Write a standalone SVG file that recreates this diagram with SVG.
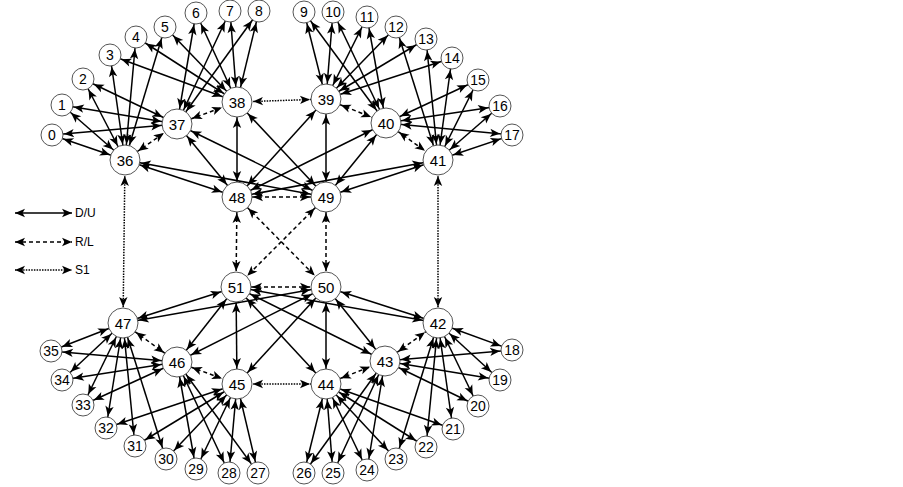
<svg xmlns="http://www.w3.org/2000/svg" width="903" height="487" viewBox="0 0 903 487">
<defs>
<marker id="mb" markerUnits="userSpaceOnUse" refX="16" refY="0" markerWidth="40" markerHeight="20" orient="auto-start-reverse" overflow="visible"><path d="M-10,-4.2 L0,0 L-10,4.2 L-7.5,0 z" fill="#000"/></marker>
<marker id="ms" markerUnits="userSpaceOnUse" refX="12" refY="0" markerWidth="40" markerHeight="20" orient="auto-start-reverse" overflow="visible"><path d="M-10,-4.2 L0,0 L-10,4.2 L-7.5,0 z" fill="#000"/></marker>
<marker id="m0" markerUnits="userSpaceOnUse" refX="0" refY="0" markerWidth="20" markerHeight="20" orient="auto-start-reverse" overflow="visible"><path d="M-10,-4.2 L0,0 L-10,4.2 L-7.5,0 z" fill="#000"/></marker>
</defs>
<style>
line{stroke:#000;stroke-width:1.5;fill:none}
.sb{marker-start:url(#ms);marker-end:url(#mb)}
.bb{marker-start:url(#mb);marker-end:url(#mb)}
.lg{marker-start:url(#m0);marker-end:url(#m0)}
.d{stroke-dasharray:4 3}
.o{stroke-dasharray:1.5 1.2}
circle{fill:#fff;stroke:#555;stroke-width:1}
text{font-family:"Liberation Sans",Arial,sans-serif;fill:#000;text-anchor:middle}
.b text{font-size:15px}
.s text{font-size:14px}
.leg{font-size:12px;text-anchor:start}
</style>
<rect width="903" height="487" fill="#fff"/>
<g id="connectors">
<!-- 36 -->
<line class="sb" x1="52" y1="135" x2="125" y2="160"/>
<line class="sb" x1="62" y1="105" x2="125" y2="160"/>
<line class="sb" x1="83" y1="79" x2="125" y2="160"/>
<line class="sb" x1="110" y1="55" x2="125" y2="160"/>
<line class="sb" x1="136" y1="37" x2="125" y2="160"/>
<line class="sb" x1="165" y1="27" x2="125" y2="160"/>
<!-- 37 -->
<line class="sb" x1="52" y1="135" x2="177" y2="124"/>
<line class="sb" x1="62" y1="105" x2="177" y2="124"/>
<line class="sb" x1="83" y1="79" x2="177" y2="124"/>
<line class="sb" x1="196" y1="13" x2="177" y2="124"/>
<line class="sb" x1="230" y1="11" x2="177" y2="124"/>
<line class="sb" x1="259" y1="11" x2="177" y2="124"/>
<!-- 38 -->
<line class="sb" x1="110" y1="55" x2="237" y2="102"/>
<line class="sb" x1="136" y1="37" x2="237" y2="102"/>
<line class="sb" x1="165" y1="27" x2="237" y2="102"/>
<line class="sb" x1="196" y1="13" x2="237" y2="102"/>
<line class="sb" x1="230" y1="11" x2="237" y2="102"/>
<line class="sb" x1="259" y1="11" x2="237" y2="102"/>
<!-- 39 -->
<line class="sb" x1="304" y1="12" x2="326" y2="99"/>
<line class="sb" x1="333" y1="12" x2="326" y2="99"/>
<line class="sb" x1="367" y1="17" x2="326" y2="99"/>
<line class="sb" x1="396" y1="27" x2="326" y2="99"/>
<line class="sb" x1="426" y1="39" x2="326" y2="99"/>
<line class="sb" x1="452" y1="58" x2="326" y2="99"/>
<!-- 40 -->
<line class="sb" x1="304" y1="12" x2="386" y2="123"/>
<line class="sb" x1="333" y1="12" x2="386" y2="123"/>
<line class="sb" x1="367" y1="17" x2="386" y2="123"/>
<line class="sb" x1="478" y1="80" x2="386" y2="123"/>
<line class="sb" x1="500" y1="106" x2="386" y2="123"/>
<line class="sb" x1="512" y1="135" x2="386" y2="123"/>
<!-- 41 -->
<line class="sb" x1="396" y1="27" x2="438" y2="160"/>
<line class="sb" x1="426" y1="39" x2="438" y2="160"/>
<line class="sb" x1="452" y1="58" x2="438" y2="160"/>
<line class="sb" x1="478" y1="80" x2="438" y2="160"/>
<line class="sb" x1="500" y1="106" x2="438" y2="160"/>
<line class="sb" x1="512" y1="135" x2="438" y2="160"/>
<!-- 42 -->
<line class="sb" x1="512" y1="350" x2="438" y2="323"/>
<line class="sb" x1="500" y1="380" x2="438" y2="323"/>
<line class="sb" x1="478" y1="406" x2="438" y2="323"/>
<line class="sb" x1="453" y1="429" x2="438" y2="323"/>
<line class="sb" x1="426" y1="447" x2="438" y2="323"/>
<line class="sb" x1="396" y1="459" x2="438" y2="323"/>
<!-- 43 -->
<line class="sb" x1="512" y1="350" x2="385" y2="361"/>
<line class="sb" x1="500" y1="380" x2="385" y2="361"/>
<line class="sb" x1="478" y1="406" x2="385" y2="361"/>
<line class="sb" x1="367" y1="470" x2="385" y2="361"/>
<line class="sb" x1="333" y1="473" x2="385" y2="361"/>
<line class="sb" x1="304" y1="473" x2="385" y2="361"/>
<!-- 44 -->
<line class="sb" x1="453" y1="429" x2="326" y2="384"/>
<line class="sb" x1="426" y1="447" x2="326" y2="384"/>
<line class="sb" x1="396" y1="459" x2="326" y2="384"/>
<line class="sb" x1="367" y1="470" x2="326" y2="384"/>
<line class="sb" x1="333" y1="473" x2="326" y2="384"/>
<line class="sb" x1="304" y1="473" x2="326" y2="384"/>
<!-- 45 -->
<line class="sb" x1="258" y1="473" x2="237" y2="384"/>
<line class="sb" x1="229" y1="473" x2="237" y2="384"/>
<line class="sb" x1="196" y1="469" x2="237" y2="384"/>
<line class="sb" x1="166" y1="459" x2="237" y2="384"/>
<line class="sb" x1="135" y1="446" x2="237" y2="384"/>
<line class="sb" x1="106" y1="428" x2="237" y2="384"/>
<!-- 46 -->
<line class="sb" x1="258" y1="473" x2="177" y2="362"/>
<line class="sb" x1="229" y1="473" x2="177" y2="362"/>
<line class="sb" x1="196" y1="469" x2="177" y2="362"/>
<line class="sb" x1="83" y1="405" x2="177" y2="362"/>
<line class="sb" x1="62" y1="380" x2="177" y2="362"/>
<line class="sb" x1="51" y1="351" x2="177" y2="362"/>
<!-- 47 -->
<line class="sb" x1="166" y1="459" x2="123" y2="323"/>
<line class="sb" x1="135" y1="446" x2="123" y2="323"/>
<line class="sb" x1="106" y1="428" x2="123" y2="323"/>
<line class="sb" x1="83" y1="405" x2="123" y2="323"/>
<line class="sb" x1="62" y1="380" x2="123" y2="323"/>
<line class="sb" x1="51" y1="351" x2="123" y2="323"/>
<!-- top big to 48/49 -->
<line class="bb" x1="125" y1="160" x2="237" y2="197"/>
<line class="bb" x1="125" y1="160" x2="326" y2="197"/>
<line class="bb" x1="177" y1="124" x2="237" y2="197"/>
<line class="bb" x1="177" y1="124" x2="326" y2="197"/>
<line class="bb" x1="237" y1="102" x2="237" y2="197"/>
<line class="bb" x1="237" y1="102" x2="326" y2="197"/>
<line class="bb" x1="326" y1="99" x2="237" y2="197"/>
<line class="bb" x1="326" y1="99" x2="326" y2="197"/>
<line class="bb" x1="386" y1="123" x2="237" y2="197"/>
<line class="bb" x1="386" y1="123" x2="326" y2="197"/>
<line class="bb" x1="438" y1="160" x2="237" y2="197"/>
<line class="bb" x1="438" y1="160" x2="326" y2="197"/>
<!-- bottom big to 50/51 -->
<line class="bb" x1="123" y1="323" x2="236" y2="287"/>
<line class="bb" x1="123" y1="323" x2="326" y2="287"/>
<line class="bb" x1="177" y1="362" x2="236" y2="287"/>
<line class="bb" x1="177" y1="362" x2="326" y2="287"/>
<line class="bb" x1="237" y1="384" x2="236" y2="287"/>
<line class="bb" x1="237" y1="384" x2="326" y2="287"/>
<line class="bb" x1="326" y1="384" x2="236" y2="287"/>
<line class="bb" x1="326" y1="384" x2="326" y2="287"/>
<line class="bb" x1="385" y1="361" x2="236" y2="287"/>
<line class="bb" x1="385" y1="361" x2="326" y2="287"/>
<line class="bb" x1="438" y1="323" x2="236" y2="287"/>
<line class="bb" x1="438" y1="323" x2="326" y2="287"/>
<!-- dashed R/L -->
<line class="bb d" x1="125" y1="160" x2="177" y2="124"/>
<line class="bb d" x1="177" y1="124" x2="237" y2="102"/>
<line class="bb d" x1="326" y1="99" x2="386" y2="123"/>
<line class="bb d" x1="386" y1="123" x2="438" y2="160"/>
<line class="bb d" x1="123" y1="323" x2="177" y2="362"/>
<line class="bb d" x1="177" y1="362" x2="237" y2="384"/>
<line class="bb d" x1="326" y1="384" x2="385" y2="361"/>
<line class="bb d" x1="385" y1="361" x2="438" y2="323"/>
<line class="bb d" x1="237" y1="197" x2="326" y2="197"/>
<line class="bb d" x1="236" y1="287" x2="326" y2="287"/>
<line class="bb d" x1="237" y1="197" x2="236" y2="287"/>
<line class="bb d" x1="326" y1="197" x2="326" y2="287"/>
<line class="bb d" x1="237" y1="197" x2="326" y2="287"/>
<line class="bb d" x1="326" y1="197" x2="236" y2="287"/>
<!-- dotted S1 -->
<line class="bb o" x1="237" y1="102" x2="326" y2="99"/>
<line class="bb o" x1="125" y1="160" x2="123" y2="323"/>
<line class="bb o" x1="438" y1="160" x2="438" y2="323"/>
<line class="bb o" x1="237" y1="384" x2="326" y2="384"/>
</g>
<g id="legend">
<line class="lg" x1="15" y1="213" x2="72" y2="213"/>
<line class="lg d" x1="15" y1="242" x2="72" y2="242"/>
<line class="lg o" x1="15" y1="270" x2="72" y2="270"/>
<text class="leg" x="75" y="217">D/U</text>
<text class="leg" x="75" y="246">R/L</text>
<text class="leg" x="75" y="274">S1</text>
</g>
<g class="s">
<g id="n0"><circle cx="52" cy="135" r="11"/><text x="52" y="140">0</text></g>
<g id="n1"><circle cx="62" cy="105" r="11"/><text x="62" y="110">1</text></g>
<g id="n2"><circle cx="83" cy="79" r="11"/><text x="83" y="84">2</text></g>
<g id="n3"><circle cx="110" cy="55" r="11"/><text x="110" y="60">3</text></g>
<g id="n4"><circle cx="136" cy="37" r="11"/><text x="136" y="42">4</text></g>
<g id="n5"><circle cx="165" cy="27" r="11"/><text x="165" y="32">5</text></g>
<g id="n6"><circle cx="196" cy="13" r="11"/><text x="196" y="18">6</text></g>
<g id="n7"><circle cx="230" cy="11" r="11"/><text x="230" y="16">7</text></g>
<g id="n8"><circle cx="259" cy="11" r="11"/><text x="259" y="16">8</text></g>
<g id="n9"><circle cx="304" cy="12" r="11"/><text x="304" y="17">9</text></g>
<g id="n10"><circle cx="333" cy="12" r="11"/><text x="333" y="17">10</text></g>
<g id="n11"><circle cx="367" cy="17" r="11"/><text x="367" y="22">11</text></g>
<g id="n12"><circle cx="396" cy="27" r="11"/><text x="396" y="32">12</text></g>
<g id="n13"><circle cx="426" cy="39" r="11"/><text x="426" y="44">13</text></g>
<g id="n14"><circle cx="452" cy="58" r="11"/><text x="452" y="63">14</text></g>
<g id="n15"><circle cx="478" cy="80" r="11"/><text x="478" y="85">15</text></g>
<g id="n16"><circle cx="500" cy="106" r="11"/><text x="500" y="111">16</text></g>
<g id="n17"><circle cx="512" cy="135" r="11"/><text x="512" y="140">17</text></g>
<g id="n18"><circle cx="512" cy="350" r="11"/><text x="512" y="355">18</text></g>
<g id="n19"><circle cx="500" cy="380" r="11"/><text x="500" y="385">19</text></g>
<g id="n20"><circle cx="478" cy="406" r="11"/><text x="478" y="411">20</text></g>
<g id="n21"><circle cx="453" cy="429" r="11"/><text x="453" y="434">21</text></g>
<g id="n22"><circle cx="426" cy="447" r="11"/><text x="426" y="452">22</text></g>
<g id="n23"><circle cx="396" cy="459" r="11"/><text x="396" y="464">23</text></g>
<g id="n24"><circle cx="367" cy="470" r="11"/><text x="367" y="475">24</text></g>
<g id="n25"><circle cx="333" cy="473" r="11"/><text x="333" y="478">25</text></g>
<g id="n26"><circle cx="304" cy="473" r="11"/><text x="304" y="478">26</text></g>
<g id="n27"><circle cx="258" cy="473" r="11"/><text x="258" y="478">27</text></g>
<g id="n28"><circle cx="229" cy="473" r="11"/><text x="229" y="478">28</text></g>
<g id="n29"><circle cx="196" cy="469" r="11"/><text x="196" y="474">29</text></g>
<g id="n30"><circle cx="166" cy="459" r="11"/><text x="166" y="464">30</text></g>
<g id="n31"><circle cx="135" cy="446" r="11"/><text x="135" y="451">31</text></g>
<g id="n32"><circle cx="106" cy="428" r="11"/><text x="106" y="433">32</text></g>
<g id="n33"><circle cx="83" cy="405" r="11"/><text x="83" y="410">33</text></g>
<g id="n34"><circle cx="62" cy="380" r="11"/><text x="62" y="385">34</text></g>
<g id="n35"><circle cx="51" cy="351" r="11"/><text x="51" y="356">35</text></g>
</g>
<g class="b">
<g id="n36"><circle cx="125" cy="160" r="15"/><text x="125" y="165.5">36</text></g>
<g id="n37"><circle cx="177" cy="124" r="15"/><text x="177" y="129.5">37</text></g>
<g id="n38"><circle cx="237" cy="102" r="15"/><text x="237" y="107.5">38</text></g>
<g id="n39"><circle cx="326" cy="99" r="15"/><text x="326" y="104.5">39</text></g>
<g id="n40"><circle cx="386" cy="123" r="15"/><text x="386" y="128.5">40</text></g>
<g id="n41"><circle cx="438" cy="160" r="15"/><text x="438" y="165.5">41</text></g>
<g id="n42"><circle cx="438" cy="323" r="15"/><text x="438" y="328.5">42</text></g>
<g id="n43"><circle cx="385" cy="361" r="15"/><text x="385" y="366.5">43</text></g>
<g id="n44"><circle cx="326" cy="384" r="15"/><text x="326" y="389.5">44</text></g>
<g id="n45"><circle cx="237" cy="384" r="15"/><text x="237" y="389.5">45</text></g>
<g id="n46"><circle cx="177" cy="362" r="15"/><text x="177" y="367.5">46</text></g>
<g id="n47"><circle cx="123" cy="323" r="15"/><text x="123" y="328.5">47</text></g>
<g id="n48"><circle cx="237" cy="197" r="15"/><text x="237" y="202.5">48</text></g>
<g id="n49"><circle cx="326" cy="197" r="15"/><text x="326" y="202.5">49</text></g>
<g id="n50"><circle cx="326" cy="287" r="15"/><text x="326" y="292.5">50</text></g>
<g id="n51"><circle cx="236" cy="287" r="15"/><text x="236" y="292.5">51</text></g>
</g>
</svg>
